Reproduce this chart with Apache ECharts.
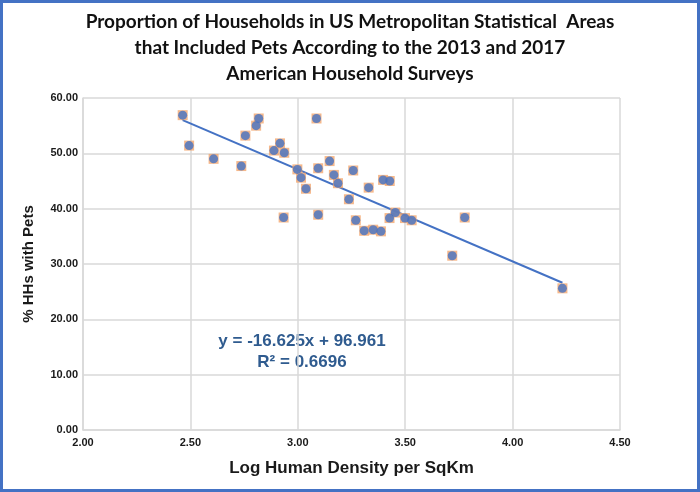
<!DOCTYPE html>
<html>
<head>
<meta charset="utf-8">
<script src="https://cdn.jsdelivr.net/npm/echarts@6/dist/echarts.min.js"></script>
<style>
    html, body { margin: 0; padding: 0; background: #fff; }
    #chart {
        width: 700px;
        height: 492px;
        box-sizing: border-box;
        border: 3px solid #4472c4;
        background: #fff;
    }
</style>
</head>
<body>
<div id="chart"></div>
<script>
// log10 human density per sq km (x) and % of households with pets (y)
const logDensity = [
    2.464, 2.494, 2.608, 2.737, 2.756, 2.806, 2.818, 2.889, 2.917, 2.937,
    2.934, 2.998, 3.015, 3.038, 3.087, 3.095, 3.095, 3.148, 3.168, 3.187,
    3.238, 3.258, 3.270, 3.309, 3.330, 3.351, 3.387, 3.397, 3.428, 3.427,
    3.454, 3.499, 3.530, 3.777, 3.719, 4.232
];
const pctPets = [
    56.9, 51.4, 49.0, 47.7, 53.2, 55.0, 56.3, 50.5, 51.8, 50.1,
    38.4, 47.1, 45.6, 43.6, 56.3, 47.3, 38.9, 48.6, 46.1, 44.6,
    41.7, 46.9, 37.9, 36.0, 43.8, 36.2, 35.9, 45.2, 45.0, 38.3,
    39.3, 38.3, 37.9, 38.4, 31.5, 25.6
];
// linear trendline as reported on the chart
const trendSlope = -16.625;
const trendIntercept = 96.961;
const trendR2 = 0.6696;

const points = logDensity.map((x, i) => [x, pctPets[i]]);
const xMin = Math.min(...logDensity);
const xMax = Math.max(...logDensity);
const trendLine = [
    [xMin, trendSlope * xMin + trendIntercept],
    [xMax, trendSlope * xMax + trendIntercept]
];

const chart = echarts.init(document.getElementById('chart'));
const labelFont = { color: '#1a1a1a', fontWeight: 'bold', fontSize: 11, fontFamily: 'Liberation Sans' };

chart.setOption({
    animation: false,
    title: {
        text: 'Proportion of Households in US Metropolitan Statistical  Areas\nthat Included Pets According to the 2013 and 2017\nAmerican Household Surveys',
        left: 'center',
        top: 1,
        textStyle: {
            fontFamily: 'Lato',
            fontWeight: 'bold',
            fontSize: 19,
            lineHeight: 26,
            color: '#111'
        }
    },
    grid: {
        left: 80,
        right: 77,
        top: 95,
        bottom: 59
    },
    xAxis: {
        type: 'value',
        min: 2,
        max: 4.5,
        interval: 0.5,
        name: 'Log Human Density per SqKm',
        nameLocation: 'middle',
        nameGap: 30,
        nameTextStyle: { fontFamily: 'Liberation Sans', fontWeight: 'bold', fontSize: 17, color: '#1a1a1a' },
        axisLine: { show: true, lineStyle: { color: '#d9d9d9', width: 1.5 } },
        axisTick: { show: false },
        axisLabel: Object.assign({ margin: 7, formatter: v => v.toFixed(2) }, labelFont),
        splitLine: { show: true, lineStyle: { color: '#d9d9d9', width: 1.5 } }
    },
    yAxis: {
        type: 'value',
        min: 0,
        max: 60,
        interval: 10,
        name: '% HHs with Pets',
        nameLocation: 'middle',
        nameGap: 47,
        nameTextStyle: { fontFamily: 'Liberation Sans', fontWeight: 'bold', fontSize: 15, color: '#1a1a1a' },
        axisLine: { show: true, lineStyle: { color: '#d9d9d9', width: 1.5 } },
        axisTick: { show: false },
        axisLabel: Object.assign({ margin: 5, formatter: v => v.toFixed(2) }, labelFont),
        splitLine: { show: true, lineStyle: { color: '#d9d9d9', width: 1.5 } }
    },
    series: [
        {
            name: 'trend',
            type: 'line',
            data: trendLine,
            symbol: 'none',
            lineStyle: { color: '#4472c4', width: 2 },
            z: 2
        },
        {
            name: 'outline',
            type: 'scatter',
            data: points,
            symbol: 'rect',
            symbolSize: 10,
            itemStyle: { color: '#f2a66e' },
            z: 3
        },
        {
            name: 'HHs with Pets',
            type: 'scatter',
            data: points,
            symbol: 'circle',
            symbolSize: 9,
            itemStyle: { color: '#4472c4' },
            z: 4
        }
    ],
    graphic: [
        {
            type: 'text',
            x: 299,
            y: 328,
            style: {
                text: 'y = ' + trendSlope + 'x + ' + trendIntercept + '\nR² = ' + trendR2,
                align: 'center',
                verticalAlign: 'top',
                fontFamily: 'Liberation Sans',
                fontWeight: 'bold',
                fontSize: 17,
                lineHeight: 21,
                fill: '#2f5b8f'
            }
        }
    ]
});
</script>
</body>
</html>
